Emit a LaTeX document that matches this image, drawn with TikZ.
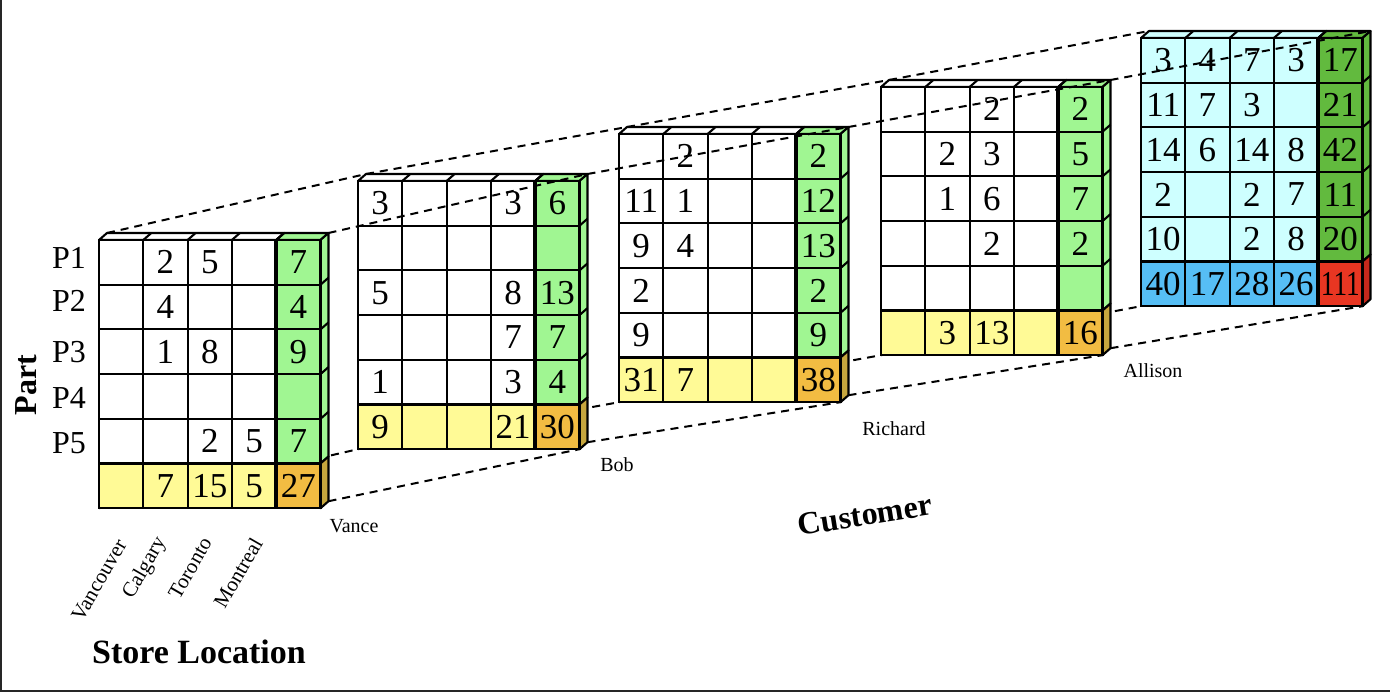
\documentclass[tikz,border=0pt]{standalone}
\usepackage{fontspec}
\usepackage{graphicx}
\setmainfont{Liberation Serif}
\definecolor{n-body}{RGB}{255,255,255}
\definecolor{n-col}{RGB}{160,246,146}
\definecolor{n-row}{RGB}{255,250,150}
\definecolor{n-corner}{RGB}{242,188,66}
\definecolor{n-side}{RGB}{160,246,146}
\definecolor{n-cside}{RGB}{198,166,62}
\definecolor{a-body}{RGB}{206,255,255}
\definecolor{a-col}{RGB}{98,186,62}
\definecolor{a-row}{RGB}{86,190,245}
\definecolor{a-corner}{RGB}{232,54,34}
\definecolor{a-side}{RGB}{98,186,62}
\definecolor{a-cside}{RGB}{196,40,28}
\def\cw{44.3}\def\ch{44.7}\def\dx{8}\def\dy{-7}
\tikzset{
  gridline/.style={draw=black, line width=2.1pt, line join=round},
  cell/.style={draw=black, line width=2.1pt, inner sep=0pt, outer sep=0pt,
    minimum width=\cw pt, minimum height=\ch pt, anchor=north west,
    font=\fontsize{35}{36}\selectfont},
  dashline/.style={draw=black, line width=2pt, dash pattern=on 8pt off 6pt},
  rowlabel/.style={font=\fontsize{32}{34}\selectfont},
  slabname/.style={font=\fontsize{20}{22}\selectfont},
  city/.style={font=\fontsize{21}{23}\selectfont, rotate=60},
  axislabel/.style={font=\bfseries\fontsize{34}{36}\selectfont}
}
\newcommand\slabcoords[3]{%
  \coordinate (#1tl) at (#2,#3);
  \coordinate (#1tlb) at ({#2+\dx},{#3+\dy});
  \coordinate (#1trb) at ({#2+5*\cw+\dx},{#3+\dy});
  \coordinate (#1bl) at (#2,{#3+6*\ch});
  \coordinate (#1br) at ({#2+5*\cw},{#3+6*\ch});
  \coordinate (#1brb) at ({#2+5*\cw+\dx},{#3+6*\ch+\dy});
}
\newcommand\drawslab[5]{%
\begin{scope}[shift={(#2,#3)}]
  \filldraw[fill=#4-body, gridline] (0,0) -- ({4*\cw},0) -- ({4*\cw+\dx},\dy) -- (\dx,\dy) -- cycle;
  \filldraw[fill=#4-col, gridline] ({4*\cw},0) -- ({5*\cw},0) -- ({5*\cw+\dx},\dy) -- ({4*\cw+\dx},\dy) -- cycle;
  \filldraw[fill=#4-side, gridline] ({5*\cw},0) -- ({5*\cw+\dx},\dy) -- ({5*\cw+\dx},{5*\ch+\dy}) -- ({5*\cw},{5*\ch}) -- cycle;
  \filldraw[fill=#4-cside, gridline] ({5*\cw},{5*\ch}) -- ({5*\cw+\dx},{5*\ch+\dy}) -- ({5*\cw+\dx},{6*\ch+\dy}) -- ({5*\cw},{6*\ch}) -- cycle;
  \foreach \k in {1,2,3,4} \draw[gridline] ({\k*\cw},0) -- ++(\dx,\dy);
  \foreach \k in {1,2,3,4} \draw[gridline] ({5*\cw},{\k*\ch}) -- ++(\dx,\dy);
  \foreach \v [count=\i from 0] in {#5} {
    \pgfmathtruncatemacro\ri{\i/5}
    \pgfmathtruncatemacro\ci{mod(\i,5)}
    \ifnum\ri<5
      \ifnum\ci<4 \def\fc{#4-body}\else\def\fc{#4-col}\fi
    \else
      \ifnum\ci<4 \def\fc{#4-row}\else\def\fc{#4-corner}\fi
    \fi
    \node[cell, fill=\fc] (#1-\ri-\ci) at ({\ci*\cw},{\ri*\ch}) {\v};
  }
  \draw[line width=3.6pt] ({4*\cw},0) -- ({4*\cw},{6*\ch});
  \draw[line width=3.6pt] (0,{5*\ch}) -- ({5*\cw},{5*\ch});
\end{scope}}
\begin{document}
\begin{tikzpicture}[x=1pt,y=-1pt]
\useasboundingbox (0,0) rectangle (1390,696);
\slabcoords{s1}{99}{240}
\slabcoords{s2}{358}{181}
\slabcoords{s3}{619}{134}
\slabcoords{s4}{881}{87}
\slabcoords{s5}{1141}{38}

% aggregate slab
\drawslab{s5}{1141}{38}{a}{3,4,7,3,17, 11,7,3,,21, 14,6,14,8,42, 2,,2,7,11, 10,,2,8,20, 40,17,28,26,{\scalebox{0.78}[1]{111}}}
\draw[dashline] (s4tlb) -- (s5tlb);
\draw[dashline] (s4trb) -- (s5trb);
\draw[dashline] (s4bl) -- (s5bl);
\draw[dashline] (s4brb) -- (s5br);
% Allison
\drawslab{s4}{881}{87}{n}{,,2,,2, ,2,3,,5, ,1,6,,7, ,,2,,2, ,,,,, ,3,13,,16}
\draw[dashline] (s3tlb) -- (s4tlb);
\draw[dashline] (s3trb) -- (s4trb);
\draw[dashline] (s3bl) -- (s4bl);
\draw[dashline] (s3brb) -- (s4br);
% Richard
\drawslab{s3}{619}{134}{n}{,2,,,2, 11,1,,,12, 9,4,,,13, 2,,,,2, 9,,,,9, 31,7,,,38}
\draw[dashline] (s2tlb) -- (s3tlb);
\draw[dashline] (s2trb) -- (s3trb);
\draw[dashline] (s2bl) -- (s3bl);
\draw[dashline] (s2brb) -- (s3br);
% Bob
\drawslab{s2}{358}{181}{n}{3,,,3,6, ,,,,, 5,,,8,13, ,,,7,7, 1,,,3,4, 9,,,21,30}
\draw[dashline] (s1tlb) -- (s2tlb);
\draw[dashline] (s1trb) -- (s2trb);
\draw[dashline] (s1bl) -- (s2bl);
\draw[dashline] (s1brb) -- (s2br);
% Vance
\drawslab{s1}{99}{240}{n}{,2,5,,7, ,4,,,4, ,1,8,,9, ,,,,, ,,2,5,7, ,7,15,5,27}

% slab names
\node[slabname] (nVance) at (354,526) {Vance};
\node[slabname] (nBob) at (617,465) {Bob};
\node[slabname] (nRichard) at (894,429) {Richard};
\node[slabname] (nAllison) at (1153,371) {Allison};

% part labels
\node[rowlabel] (p1) at (69,258) {P1};
\node[rowlabel] (p2) at (69,301) {P2};
\node[rowlabel] (p3) at (69,352) {P3};
\node[rowlabel] (p4) at (69,398) {P4};
\node[rowlabel] (p5) at (69,443) {P5};
\node[axislabel, rotate=90, font=\bfseries\fontsize{32}{34}\selectfont] (part) at (26,385) {Part};

% city labels
\node[city] (van) at (99,580) {Vancouver};
\node[city] (cal) at (145,568) {Calgary};
\node[city] (tor) at (190,568) {Toronto};
\node[city] (mon) at (238,573) {Montreal};
\node[axislabel] (store) at (199,652) {Store Location};
\node[axislabel, rotate=9, font=\bfseries\fontsize{32}{34}\selectfont] (cust) at (865,515) {Customer};

% frame
\draw[line width=2pt, black!85] (1,0) -- (1,691) -- (1390,691);
\end{tikzpicture}
\end{document}
